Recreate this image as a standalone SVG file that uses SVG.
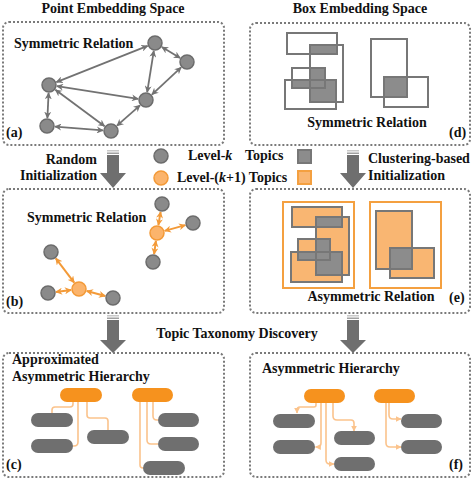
<svg xmlns="http://www.w3.org/2000/svg" width="474" height="480" viewBox="0 0 474 480">
<defs>
<style>
text{font-family:"Liberation Serif","Times New Roman",serif;font-weight:bold;font-size:14px;fill:#111}
.panel{fill:none;stroke:#7a7a7a;stroke-width:2;stroke-dasharray:2 2}
.gn{fill:#8a8a8a;stroke:#6c6c6c;stroke-width:1.5}
.on{fill:#fbb46c;stroke:#f39a38;stroke-width:1.5}
.ge{stroke:#727272;stroke-width:1.8;fill:none;marker-start:url(#ga);marker-end:url(#ga)}
.oe{stroke:#f39a38;stroke-width:2;fill:none;marker-start:url(#oa);marker-end:url(#oa)}
.bw{fill:#fff;stroke:none}
.bo{fill:#f9b672;stroke:none}
.bg{fill:#8c8c8c;stroke:none}
.bs{fill:none;stroke:#777;stroke-width:2}
.fr{fill:none;stroke:#f4a040;stroke-width:2}
.op{fill:#f6921e}
.gp{fill:#6f6f6f}
.cn{fill:none;stroke:#fbc38c;stroke-width:1.6}
.ca{fill:none;stroke:#fbc38c;stroke-width:1.6;marker-end:url(#ca)}
.big{fill:#6f6f6f}
</style>
<marker id="ga" viewBox="0 0 10 10" refX="9" refY="5" markerWidth="7" markerHeight="7" markerUnits="userSpaceOnUse" orient="auto-start-reverse"><path d="M0,0 L10,5 L0,10 L3,5 Z" fill="#727272"/></marker>
<marker id="oa" viewBox="0 0 10 10" refX="9" refY="5" markerWidth="7" markerHeight="7" markerUnits="userSpaceOnUse" orient="auto-start-reverse"><path d="M0,0 L10,5 L0,10 L3,5 Z" fill="#f39a38"/></marker>
<marker id="ca" viewBox="0 0 10 10" refX="9" refY="5" markerWidth="6" markerHeight="6" markerUnits="userSpaceOnUse" orient="auto"><path d="M0,0 L10,5 L0,10 Z" fill="#fbc38c"/></marker>
</defs>

<!-- Titles -->
<text x="113" y="13" text-anchor="middle">Point Embedding Space</text>
<text x="360" y="13" text-anchor="middle">Box Embedding Space</text>

<!-- Panel (a) -->
<g id="panel-a">
<rect class="panel" x="3" y="22" width="221" height="123" rx="6"/>
<text x="14" y="48">Symmetric Relation</text>
<text x="6" y="137">(a)</text>
</g>
<g id="a-edges">
<line class="ge" x1="56.4" y1="82.1" x2="147.6" y2="45.9"/>
<line class="ge" x1="161.9" y1="47.1" x2="180.1" y2="57.9"/>
<line class="ge" x1="153.8" y1="50.9" x2="147.2" y2="92.1"/>
<line class="ge" x1="181.1" y1="67.4" x2="151.9" y2="94.6"/>
<line class="ge" x1="56.9" y1="86.2" x2="138.1" y2="98.8"/>
<line class="ge" x1="48.6" y1="93" x2="47.4" y2="118"/>
<line class="ge" x1="55.4" y1="89.8" x2="104.6" y2="126.2"/>
<line class="ge" x1="55" y1="126.6" x2="103" y2="130.4"/>
<line class="ge" x1="117" y1="125.7" x2="140" y2="105.3"/>
</g>
<g id="a-n1"><circle class="gn" cx="155" cy="43" r="7"/></g>
<g id="a-n2"><circle class="gn" cx="187" cy="62" r="7"/></g>
<g id="a-n3"><circle class="gn" cx="49" cy="85" r="7"/></g>
<g id="a-n4"><circle class="gn" cx="146" cy="100" r="7"/></g>
<g id="a-n5"><circle class="gn" cx="47" cy="126" r="7"/></g>
<g id="a-n6"><circle class="gn" cx="111" cy="131" r="7"/></g>

<!-- Panel (d) -->
<g id="panel-d">
<rect class="panel" x="250" y="23" width="220" height="122" rx="6"/>
<rect class="bw" x="287" y="33" width="50" height="21"/>
<rect class="bw" x="310" y="45" width="33" height="57"/>
<rect class="bw" x="292" y="68" width="33" height="20"/>
<rect class="bw" x="285" y="80" width="51" height="29"/>
<rect class="bg" x="310" y="45" width="27" height="9"/>
<rect class="bg" x="310" y="68" width="15" height="20"/>
<rect class="bg" x="292" y="80" width="33" height="8"/>
<rect class="bg" x="310" y="80" width="26" height="22"/>
<rect class="bs" x="287" y="33" width="50" height="21"/>
<rect class="bs" x="310" y="45" width="33" height="57"/>
<rect class="bs" x="292" y="68" width="33" height="20"/>
<rect class="bs" x="285" y="80" width="51" height="29"/>
<rect class="bw" x="371" y="39" width="36" height="58"/>
<rect class="bw" x="384" y="77" width="44" height="30"/>
<rect class="bg" x="384" y="77" width="23" height="20"/>
<rect class="bs" x="371" y="39" width="36" height="58"/>
<rect class="bs" x="384" y="77" width="44" height="30"/>
<text x="367" y="127" text-anchor="middle">Symmetric Relation</text>
<text x="449" y="137">(d)</text>
</g>

<!-- Big arrows -->
<g id="arrows">
<rect x="107" y="150" width="12" height="1.5" fill="#c8c8c8"/>
<rect x="107" y="152.5" width="12" height="1.5" fill="#a0a0a0"/>
<path class="big" d="M107,155 H119 V173 H126 L113,188 L100,173 H107 Z"/>
<rect x="347" y="150" width="12" height="1.5" fill="#c8c8c8"/>
<rect x="347" y="152.5" width="12" height="1.5" fill="#a0a0a0"/>
<path class="big" d="M347,155 H359 V173 H366 L353,188 L340,173 H347 Z"/>
<rect x="107" y="315" width="12" height="1.5" fill="#c8c8c8"/>
<rect x="107" y="317.5" width="12" height="1.5" fill="#a0a0a0"/>
<path class="big" d="M107,320 H119 V340 H126 L113,353 L100,340 H107 Z"/>
<rect x="347" y="315" width="12" height="1.5" fill="#c8c8c8"/>
<rect x="347" y="317.5" width="12" height="1.5" fill="#a0a0a0"/>
<path class="big" d="M347,320 H359 V340 H366 L353,353 L340,340 H347 Z"/>
</g>
<text x="97" y="164" text-anchor="end">Random</text>
<text x="97" y="180" text-anchor="end">Initialization</text>
<text x="368" y="163">Clustering-based</text>
<text x="368" y="180">Initialization</text>
<text x="237" y="338" text-anchor="middle">Topic Taxonomy Discovery</text>

<!-- Legend -->
<g id="legend">
<circle class="gn" cx="161" cy="156" r="7"/>
<circle class="on" cx="161" cy="178" r="7"/>
<text x="188" y="160">Level-<tspan font-style="italic">k</tspan><tspan x="245">Topics</tspan></text>
<text x="177" y="182">Level-(<tspan font-style="italic">k</tspan>+1) Topics</text>
<rect x="298" y="150" width="13" height="13" fill="#8c8c8c" stroke="#777" stroke-width="2"/>
<rect x="298" y="171" width="13" height="13" fill="#f9b672" stroke="#f4a040" stroke-width="2"/>
</g>

<!-- Panel (b) -->
<g id="panel-b">
<rect class="panel" x="3" y="189" width="221" height="124" rx="6"/>
<text x="27" y="222">Symmetric Relation</text>
<text x="6" y="306">(b)</text>
</g>
<g id="b-edges">
<line class="oe" x1="158.4" y1="225.1" x2="160.6" y2="211.9"/>
<line class="oe" x1="164.7" y1="230.9" x2="185.3" y2="225.1"/>
<line class="oe" x1="155.9" y1="240.9" x2="154.1" y2="254.1"/>
<line class="oe" x1="74.2" y1="282.6" x2="55.8" y2="258.4"/>
<line class="oe" x1="71.1" y1="290" x2="55.9" y2="292"/>
<line class="oe" x1="86.7" y1="291" x2="105.3" y2="296"/>
</g>
<g id="b-g1"><circle class="gn" cx="162" cy="204" r="7"/></g>
<g id="b-g2"><circle class="gn" cx="193" cy="223" r="7"/></g>
<g id="b-o1"><circle class="on" cx="157" cy="233" r="7"/></g>
<g id="b-g3"><circle class="gn" cx="153" cy="262" r="7"/></g>
<g id="b-g4"><circle class="gn" cx="51" cy="252" r="7"/></g>
<g id="b-o2"><circle class="on" cx="79" cy="289" r="7"/></g>
<g id="b-g5"><circle class="gn" cx="48" cy="293" r="7"/></g>
<g id="b-g6"><circle class="gn" cx="113" cy="298" r="7"/></g>

<!-- Panel (e) -->
<g id="panel-e">
<rect class="panel" x="250" y="189" width="220" height="124" rx="6"/>
<rect class="fr" x="283" y="202" width="71" height="86"/>
<rect class="fr" x="370" y="202" width="71" height="86"/>
<rect class="bo" x="292" y="207" width="50" height="20"/>
<rect class="bo" x="316" y="217" width="33" height="58"/>
<rect class="bo" x="298" y="239" width="32" height="21"/>
<rect class="bo" x="291" y="252" width="51" height="30"/>
<rect class="bg" x="316" y="217" width="26" height="10"/>
<rect class="bg" x="316" y="239" width="14" height="21"/>
<rect class="bg" x="298" y="252" width="32" height="8"/>
<rect class="bg" x="316" y="252" width="26" height="23"/>
<rect class="bs" x="292" y="207" width="50" height="20"/>
<rect class="bs" x="316" y="217" width="33" height="58"/>
<rect class="bs" x="298" y="239" width="32" height="21"/>
<rect class="bs" x="291" y="252" width="51" height="30"/>
<rect class="bo" x="376" y="211" width="36" height="58"/>
<rect class="bo" x="390" y="248" width="44" height="30"/>
<rect class="bg" x="390" y="248" width="22" height="21"/>
<rect class="bs" x="376" y="211" width="36" height="58"/>
<rect class="bs" x="390" y="248" width="44" height="30"/>
<text x="371" y="301" text-anchor="middle">Asymmetric Relation</text>
<text x="449" y="302">(e)</text>
</g>

<!-- Panel (c) -->
<g id="panel-c">
<rect class="panel" x="3" y="353" width="221" height="124" rx="6"/>
<text x="12" y="364">Approximated</text>
<text x="12" y="381">Asymmetric Hierarchy</text>
<text x="6" y="469">(c)</text>
</g>
<g id="c-connectors">
<path class="cn" d="M73,402 V404 Q73,407 70,407 H55 Q52,407 52,410 V413"/>
<path class="cn" d="M78,402 V442 Q78,446 74,446 H73"/>
<path class="cn" d="M87,402 V415 Q87,418 90,418 H105 Q108,418 108,421 V430"/>
<path class="cn" d="M140,402 V465 Q140,468 143,468"/>
<path class="cn" d="M147,402 V440 Q147,444 151,444 H158"/>
<path class="cn" d="M153,402 V416 Q153,420 157,420 H158"/>
</g>
<g id="c-p1"><rect class="op" x="60" y="388" width="42" height="14" rx="7"/></g>
<g id="c-p2"><rect class="op" x="132" y="388" width="41" height="14" rx="7"/></g>
<g id="c-p3"><rect class="gp" x="31" y="413" width="42" height="14" rx="7"/></g>
<g id="c-p4"><rect class="gp" x="31" y="439" width="42" height="14" rx="7"/></g>
<g id="c-p5"><rect class="gp" x="87" y="430" width="42" height="14" rx="7"/></g>
<g id="c-p6"><rect class="gp" x="158" y="413" width="41" height="14" rx="7"/></g>
<g id="c-p7"><rect class="gp" x="158" y="437" width="41" height="14" rx="7"/></g>
<g id="c-p8"><rect class="gp" x="143" y="461" width="42" height="14" rx="7"/></g>

<!-- Panel (f) -->
<g id="panel-f">
<rect class="panel" x="250" y="353" width="220" height="124" rx="6"/>
<text x="262" y="373">Asymmetric Hierarchy</text>
<text x="449" y="469">(f)</text>
</g>
<g id="f-connectors">
<path class="ca" d="M316,403 V405 Q316,407 314,407 H300 Q297,407 297,410 V413"/>
<path class="ca" d="M321,403 V443 Q321,447 317,447 H315.5"/>
<path class="ca" d="M326,403 V460 Q326,464 330,464 H334"/>
<path class="ca" d="M333,403 V416 Q333,420 337,420 H351 Q354,420 354,423 V431"/>
<path class="ca" d="M389,403 V415 Q389,419 393,419 H401"/>
<path class="ca" d="M386,403 V443 Q386,447 390,447 H401"/>
</g>
<g id="f-p1"><rect class="op" x="304" y="389" width="41" height="14" rx="7"/></g>
<g id="f-p2"><rect class="op" x="374" y="389" width="41" height="14" rx="7"/></g>
<g id="f-p3"><rect class="gp" x="273" y="414" width="42" height="14" rx="7"/></g>
<g id="f-p4"><rect class="gp" x="273" y="440" width="42" height="14" rx="7"/></g>
<g id="f-p5"><rect class="gp" x="334" y="431" width="41" height="14" rx="7"/></g>
<g id="f-p6"><rect class="gp" x="334" y="457" width="41" height="14" rx="7"/></g>
<g id="f-p7"><rect class="gp" x="401" y="414" width="41" height="14" rx="7"/></g>
<g id="f-p8"><rect class="gp" x="401" y="440" width="41" height="14" rx="7"/></g>
</svg>
